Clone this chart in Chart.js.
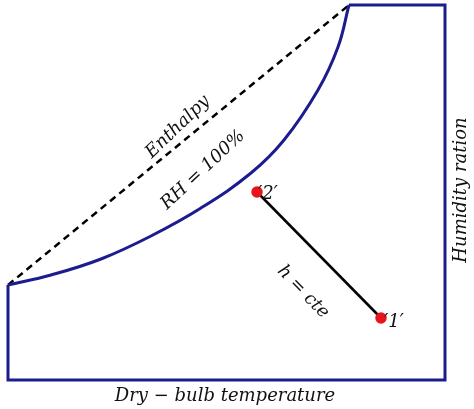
<!DOCTYPE html>
<html><head><meta charset="utf-8">
<script src="https://cdn.jsdelivr.net/npm/chart.js@4/dist/chart.umd.min.js"></script>
<style>html,body{margin:0;padding:0;background:#fff}#c{width:474px;height:409px}</style>
</head><body><div id="c"><canvas id="chart" width="474" height="409"></canvas></div>
<script>
// coordinates: x = temperature units, y = humidity units (box 0..437 x 0..375)
const boxOutline = [{x:341,y:375},{x:437,y:375},{x:437,y:0},{x:0,y:0},{x:0,y:95}];
const saturation = [{x:0,y:95},{x:43,y:105},{x:93,y:121},{x:143,y:144},{x:193,y:172},{x:243,y:207},{x:276,y:240},{x:310,y:290},{x:330,y:333},{x:341,y:375}];
const enthalpy = [{x:0,y:95},{x:341,y:375}];
const process = [{x:249,y:188},{x:373,y:62}];

const labels = [
  {text:'Dry − bulb temperature', px:225, py:396, rot:0},
  {text:'Humidity ration', px:461, py:190, rot:-90},
  {text:'Enthalpy', px:178, py:127, rot:-44},
  {text:'RH = 100%', px:203, py:170, rot:-43},
  {text:'h = cte', px:303, py:292, rot:46},
  {text:"\u20322\u2032", px:268, py:194, rot:0},
  {text:"\u20321\u2032", px:394, py:322, rot:0},
];

const textPlugin = {
  id: 'texts',
  afterDatasetsDraw(chart) {
    const ctx = chart.ctx;
    ctx.save();
    ctx.fillStyle = '#111';
    ctx.font = 'italic 18px "DejaVu Serif", serif';
    ctx.textAlign = 'center';
    ctx.textBaseline = 'middle';
    labels.forEach((l) => {
      ctx.save();
      ctx.translate(l.px, l.py);
      ctx.rotate(l.rot * Math.PI / 180);
      ctx.fillText(l.text, 0, 0);
      ctx.restore();
    });
    ctx.restore();
  },
};

new Chart(document.getElementById('chart'), {
  type: 'scatter',
  data: {
    datasets: [
      {data: boxOutline, showLine: true, borderColor: '#1c1c8e', borderWidth: 3, pointRadius: 0, clip: false},
      {data: saturation, showLine: true, borderColor: '#1c1c8e', borderWidth: 3, pointRadius: 0, tension: 0.4, clip: false},
      {data: enthalpy, showLine: true, borderColor: '#000', borderWidth: 2.5, borderDash: [7, 5], pointRadius: 0, clip: false},
      {data: process, showLine: true, borderColor: '#000', borderWidth: 2.5, pointRadius: 4.5, pointBackgroundColor: '#e8141c', pointBorderColor: '#e8141c', clip: false},
    ],
  },
  options: {
    responsive: false,
    animation: false,
    scales: {
      x: {type: 'linear', min: -1, max: 459, display: false},
      y: {type: 'linear', min: -22, max: 373, display: false},
    },
    plugins: {legend: {display: false}, tooltip: {enabled: false}},
  },
  plugins: [textPlugin],
});
</script></body></html>
